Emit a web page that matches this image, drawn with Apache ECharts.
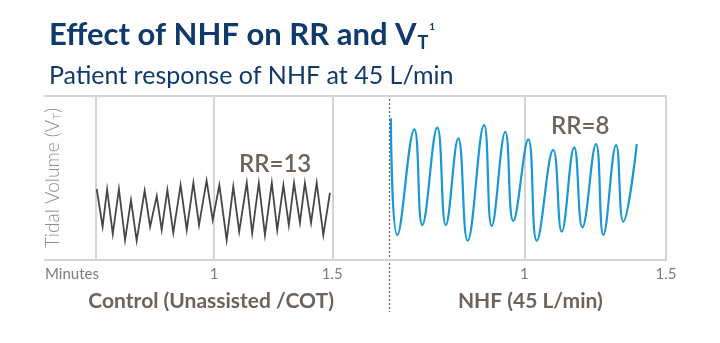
<!DOCTYPE html>
<html>
<head>
<meta charset="utf-8">
<script src="https://cdn.jsdelivr.net/npm/echarts@6/dist/echarts.min.js"></script>
<style>
  html, body { margin: 0; padding: 0; background: #ffffff; }
  #chart { width: 720px; height: 343px; }
</style>
</head>
<body>
<div id="chart"></div>
<script>
// Control (unassisted / COT): turning points of the tidal volume zigzag
const controlMinutes = [0.503, 0.528, 0.547, 0.571, 0.597, 0.623, 0.648, 0.672, 0.706, 0.729,
  0.757, 0.778, 0.802, 0.827, 0.858, 0.884, 0.912, 0.936, 0.968, 0.994,
  1.022, 1.053, 1.081, 1.106, 1.138, 1.161, 1.189, 1.215, 1.244, 1.267,
  1.293, 1.316, 1.338, 1.363, 1.384, 1.410, 1.434, 1.462, 1.490];
const controlVolume = [43.3, 20.3, 43.1, 15.9, 43.3, 12.2, 36.6, 11.8, 42.3, 20.3,
  39.0, 18.3, 42.7, 16.6, 45.7, 18.3, 47.1, 21.3, 48.4, 24.4,
  45.7, 12.2, 44.8, 17.3, 47.1, 16.3, 47.0, 15.2, 47.0, 18.3,
  45.7, 21.3, 47.0, 22.6, 47.0, 22.7, 47.0, 15.2, 41.0];

// NHF at 45 L/min: breath peaks and troughs, joined by a smooth curve
const nhfMinutes = [0.529, 0.552, 0.612, 0.640, 0.693, 0.723, 0.767, 0.800, 0.858, 0.885,
  0.933, 0.961, 1.014, 1.044, 1.102, 1.132, 1.176, 1.205, 1.253, 1.279,
  1.324, 1.349, 1.397];
const nhfVolume = [86.4, 15.2, 79.7, 21.3, 80.7, 21.3, 74.2, 11.8, 82.3, 20.7,
  78.2, 23.8, 73.6, 11.8, 67.1, 17.3, 68.7, 19.9, 70.7, 15.2,
  70.1, 23.4, 70.7];

// Axis setup and text
const minuteMin = 0.5;
const minuteMax = 1.5;
const minuteStep = 0.5;
const volumeMin = 0;
const volumeMax = 100;
const panelNames = ['Control (Unassisted /COT)', 'NHF (45 L/min)'];
const rateLabels = ['RR=13', 'RR=8'];

const FONT = 'Lato, "Liberation Sans", sans-serif';
const NAVY = '#0e3a6c';
const TAUPE = '#6b635e';
const GRID = '#d4d4d4';
const TICK = '#7c7c7c';

const pairs = (xs, ys) => xs.map((x, i) => [x, ys[i]]);

const chart = echarts.init(document.getElementById('chart'), null, { renderer: 'canvas' });

const hiddenValueAxis = (extra) => Object.assign({
  type: 'value',
  axisLine: { show: false },
  axisTick: { show: false },
  axisLabel: { show: false },
  splitLine: { show: false }
}, extra);

// frame edge: an axis that shows only its line
const frameEdge = (position) => hiddenValueAxis({
  gridIndex: 0, min: 0, max: 1, position: position,
  axisLine: { show: true, onZero: false, lineStyle: { color: GRID, width: 2 } }
});

const minuteAxis = (gridIndex, name, namePadding, firstLabel) => ({
  type: 'value',
  gridIndex: gridIndex,
  min: minuteMin,
  max: minuteMax,
  interval: minuteStep,
  axisLine: { show: false, onZero: false },
  axisTick: { show: false },
  splitLine: {
    show: true,
    showMinLine: firstLabel !== null,
    lineStyle: { color: GRID, width: 2 }
  },
  axisLabel: {
    show: true,
    showMinLabel: firstLabel !== null,
    margin: 7,
    color: TICK,
    fontFamily: FONT,
    fontSize: 15,
    formatter: (v) => (v === minuteMin ? '{m|' + firstLabel + '}' : String(v)),
    rich: { m: { color: TICK, fontFamily: FONT, fontSize: 15, padding: [0, 48, 0, 0] } }
  },
  name: name,
  nameLocation: 'middle',
  nameGap: 31,
  nameTextStyle: {
    color: TAUPE,
    fontFamily: FONT,
    fontWeight: 'bold',
    fontSize: 21,
    padding: namePadding
  }
});

const option = {
  backgroundColor: '#ffffff',
  animation: false,
  title: [
    {
      text: '{b|Effect of NHF on RR and V}{s|T}{p|1}',
      left: 44,
      top: 12,
      textStyle: {
        rich: {
          b: { color: NAVY, fontFamily: FONT, fontWeight: 'bold', fontSize: 31, lineHeight: 36 },
          s: { color: NAVY, fontFamily: FONT, fontWeight: 'bold', fontSize: 18, lineHeight: 36, padding: [17, 0, 0, 1] },
          p: { color: NAVY, fontFamily: FONT, fontSize: 10, lineHeight: 36, padding: [0, 0, 16, 1] }
        }
      }
    },
    {
      text: 'Patient response of NHF at 45 L/min',
      left: 44,
      top: 56,
      textStyle: { color: NAVY, fontFamily: FONT, fontWeight: 'normal', fontSize: 25, lineHeight: 30 }
    }
  ],
  grid: [
    { left: 45, right: 54, top: 96, bottom: 83 },
    { left: 96, width: 236.3, top: 96, bottom: 83 },
    { left: 382.6, width: 283.4, top: 96, bottom: 83 }
  ],
  xAxis: [
    frameEdge('bottom'),
    minuteAxis(1, panelNames[0], [0, 6, 0, 0], 'Minutes'),
    minuteAxis(2, panelNames[1], [0, 0, 0, 12], null),
    frameEdge('top')
  ],
  yAxis: [
    frameEdge('right'),
    hiddenValueAxis({
      gridIndex: 1, min: volumeMin, max: volumeMax,
      name: 'Tidal Volume (V{t|T})',
      nameLocation: 'middle',
      nameGap: 33,
      nameRotate: 90,
      nameTextStyle: {
        color: '#8e8e8e', fontFamily: FONT, fontWeight: 300, fontSize: 19,
        rich: { t: { color: '#8e8e8e', fontFamily: FONT, fontWeight: 300, fontSize: 12, padding: [9, 0, 0, 0] } }
      }
    }),
    hiddenValueAxis({ gridIndex: 2, min: volumeMin, max: volumeMax })
  ],
  graphic: [
    {
      type: 'line',
      silent: true,
      shape: { x1: 389.5, y1: 95, x2: 389.5, y2: 312 },
      style: { stroke: '#5a5a5a', lineWidth: 1.2, lineDash: [2, 2] }
    },
    {
      type: 'text',
      left: 239,
      top: 152,
      style: { text: rateLabels[0], fill: TAUPE, font: '600 24px ' + FONT }
    },
    {
      type: 'text',
      left: 551,
      top: 114,
      style: { text: rateLabels[1], fill: TAUPE, font: '600 24px ' + FONT }
    }
  ],
  series: [
    {
      name: panelNames[0],
      type: 'line',
      xAxisIndex: 1,
      yAxisIndex: 1,
      data: pairs(controlMinutes, controlVolume),
      symbol: 'none',
      lineStyle: { color: '#474747', width: 1.8, join: 'miter' },
      z: 3
    },
    {
      name: panelNames[1],
      type: 'line',
      xAxisIndex: 2,
      yAxisIndex: 2,
      data: pairs(nhfMinutes, nhfVolume),
      symbol: 'none',
      smooth: 0.45,
      lineStyle: { color: '#1b97d4', width: 2.2 },
      z: 3
    }
  ]
};

chart.setOption(option);
</script>
</body>
</html>
